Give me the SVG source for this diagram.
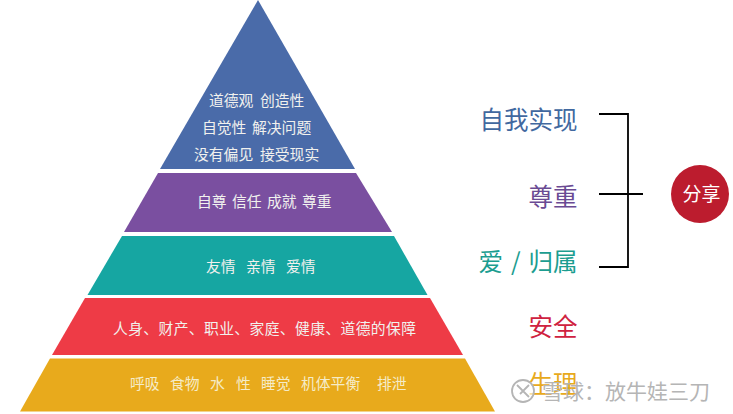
<svg xmlns="http://www.w3.org/2000/svg" width="733" height="414" viewBox="0 0 733 414">
<style>
text{font-family:"Noto Sans CJK SC","Noto Sans",sans-serif}
.in{font-size:14.800px;fill:#f1f1ee}
.lb{font-size:24.500px;text-anchor:end}
.ln{fill:none;stroke:#000;stroke-width:1.800}
.wm{font-size:21px;fill:#b5b5b5}
</style>
<rect width="733" height="414" fill="#fff"/>
<g id="level-self"><polygon points="258,0 355,169 160,169" fill="#4a6ba9"/>
<text class="in" y="106"><tspan x="209">道德观</tspan><tspan x="260">创造性</tspan></text>
<text class="in" y="133"><tspan x="202">自觉性</tspan><tspan x="252">解决问题</tspan></text>
<text class="in" y="160"><tspan x="194">没有偏见</tspan><tspan x="260">接受现实</tspan></text></g>
<g id="level-esteem"><polygon points="158,173 356,173 392,232 124,232" fill="#7a4fa0"/>
<text class="in" y="207"><tspan x="197">自尊</tspan><tspan x="232">信任</tspan><tspan x="267">成就</tspan><tspan x="302">尊重</tspan></text></g>
<g id="level-love"><polygon points="122,236 394,236 427.500,295 87.500,295" fill="#16a6a2"/>
<text class="in" y="272"><tspan x="206">友情</tspan><tspan x="246">亲情</tspan><tspan x="286">爱情</tspan></text></g>
<g id="level-safety"><polygon points="85,298 430,298 463,355 52,355" fill="#ee3b46"/>
<text class="in" x="113" y="334" textLength="303">人身、财产、职业、家庭、健康、道德的保障</text></g>
<g id="level-body"><polygon points="50,358.500 465,358.500 495,411.500 20,411.500" fill="#e8aa1c"/>
<text class="in" y="389" style="fill:#f5ecc8"><tspan x="130">呼吸</tspan><tspan x="170">食物</tspan><tspan x="210">水</tspan><tspan x="236">性</tspan><tspan x="261">睡觉</tspan><tspan x="301">机体平衡</tspan><tspan x="377">排泄</tspan></text></g>
<g id="labels">
<text class="lb" x="577.500" y="129" fill="#41689f">自我实现</text>
<text class="lb" x="577.500" y="206" fill="#6a4a93">尊重</text>
<text class="lb" x="577.500" y="271" fill="#1c9d90" word-spacing="2.500">爱 / 归属</text>
<text class="lb" x="577.500" y="336" fill="#cf2240">安全</text>
<text class="lb" x="577.500" y="393" fill="#e8aa1c">生理</text>
</g>
<g id="connectors">
<path class="ln" d="M599 114H628V267H599M599 194H643"/>
</g>
<g id="share"><circle cx="700" cy="194" r="29" fill="#bc1c2e"/>
<text x="701.500" y="201" font-size="19" fill="#fff" text-anchor="middle">分享</text></g>
<g id="watermark">
<circle cx="523" cy="391" r="11" fill="#fff" fill-opacity=".6" stroke="#b5b5b5" stroke-width="1.800"/>
<path d="M517 385L529 397M529 385L520 394" fill="none" stroke="#b5b5b5" stroke-width="1.800"/>
<text class="wm" x="542" y="399">雪球：放牛娃三刀</text>
</g>
</svg>
